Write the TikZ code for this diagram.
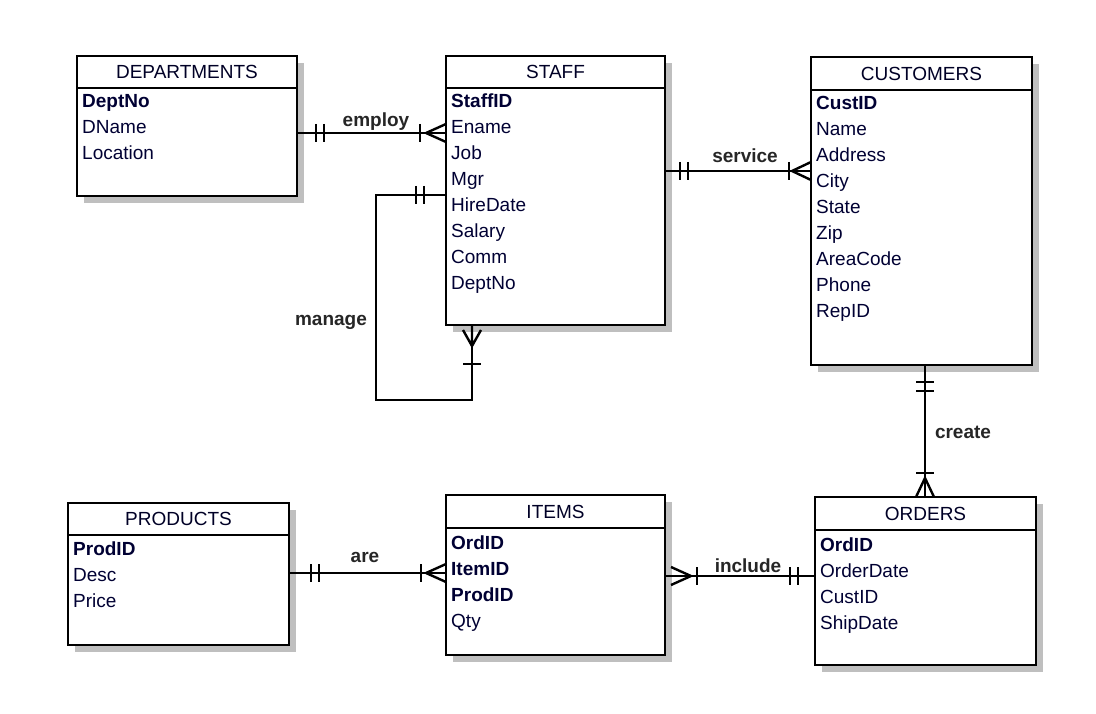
\documentclass[tikz,border=0pt]{standalone}
\usepackage{fontspec}
\setmainfont{Liberation Sans}
\begin{document}
\begin{tikzpicture}[x=1pt,y=-1pt,
  line width=2.4pt,
  shadow/.style={fill=black!25,draw=none},
  ent/.style={draw,fill=white,line width=2.6pt},
  ttl/.style={font=\fontsize{19}{22}\selectfont,text=black!75!blue!60!black},
  att/.style={anchor=north west,align=left,inner sep=0pt,font=\fontsize{19}{26}\selectfont,text=black!80!blue},
  lab/.style={font=\bfseries\fontsize{19}{22}\selectfont,text=black!85}]
\useasboundingbox (0,0) rectangle (1096,714);
\fill[white] (0,0) rectangle (1096,714);
% macro-free entity drawing
\newcommand{\ent}[7]{% name x1 y1 x2 y2 hy title
  \fill[shadow] (#2+7,#3+7) rectangle (#4+7,#5+7);
  \draw[ent] (#2,#3) rectangle (#4,#5);
  \coordinate (#1-nw) at (#2,#3); \coordinate (#1-se) at (#4,#5);
  \draw[line width=2.6pt] (#2,#6) -- (#4,#6);
  \node[ttl] (#1-t) at ({(#2+#4)/2},{(#3+#6)/2}) {#7};}
\ent{dept}{77}{56}{297}{196}{88}{DEPARTMENTS}
\ent{staff}{446}{56}{665}{325}{88}{STAFF}
\ent{cust}{811}{57}{1032}{365}{90}{CUSTOMERS}
\ent{prod}{68}{503}{289}{645}{535}{PRODUCTS}
\ent{items}{446}{495}{665}{655}{528}{ITEMS}
\ent{ord}{815}{497}{1036}{665}{530}{ORDERS}
\node[att] (dA) at (81,93) {\textbf{DeptNo}\\DName\\Location};
\node[att] (sA) at (450,93) {\textbf{StaffID}\\Ename\\Job\\Mgr\\HireDate\\Salary\\Comm\\DeptNo};
\node[att] (cA) at (815,95) {\textbf{CustID}\\Name\\Address\\City\\State\\Zip\\AreaCode\\Phone\\RepID};
\node[att] (pA) at (72,541) {\textbf{ProdID}\\Desc\\Price};
\node[att] (iA) at (450,535) {\textbf{OrdID}\\\textbf{ItemID}\\\textbf{ProdID}\\Qty};
\node[att] (oA) at (819,537) {\textbf{OrdID}\\OrderDate\\CustID\\ShipDate};
% employ
\draw (297,133) -- (446,133);
\draw (316,124)--(316,142) (324,124)--(324,142) (420,124)--(420,142);
\draw (426,133)--(446,124) (426,133)--(446,142);
\node[lab] (l1) at (376,122) {employ};
% service
\draw (665,171) -- (811,171);
\draw (680,162)--(680,180) (688,162)--(688,180) (789,162)--(789,180);
\draw (792,171)--(811,162) (792,171)--(811,180);
\node[lab] (l2) at (745,156) {service};
% manage
\draw (446,195) -- (376,195) -- (376,400) -- (472,400) -- (472,325);
\draw (416,186)--(416,204) (424,186)--(424,204) (463,364)--(481,364);
\draw (472,346)--(463,330) (472,346)--(481,330) (472,346)--(472,325);
\node[lab] (l3) at (331,322) {manage};
% create
\draw (925,365) -- (925,497);
\draw (916,382)--(934,382) (916,391)--(934,391) (916,473)--(934,473);
\draw (925,478)--(916,497) (925,478)--(934,497);
\node[lab] (l4) at (963,432) {create};
% are
\draw (289,573) -- (446,573);
\draw (311,564)--(311,582) (319,564)--(319,582) (421,564)--(421,582);
\draw (426,573)--(446,564) (426,573)--(446,582);
\node[lab] (l5) at (365,557) {are};
% include
\draw (665,576) -- (815,576);
\draw (697,567)--(697,585) (790,567)--(790,585) (798,567)--(798,585);
\draw (691,576)--(671,567) (691,576)--(671,585);
\node[lab] (l6) at (748,566) {include};
\end{tikzpicture}
\end{document}
